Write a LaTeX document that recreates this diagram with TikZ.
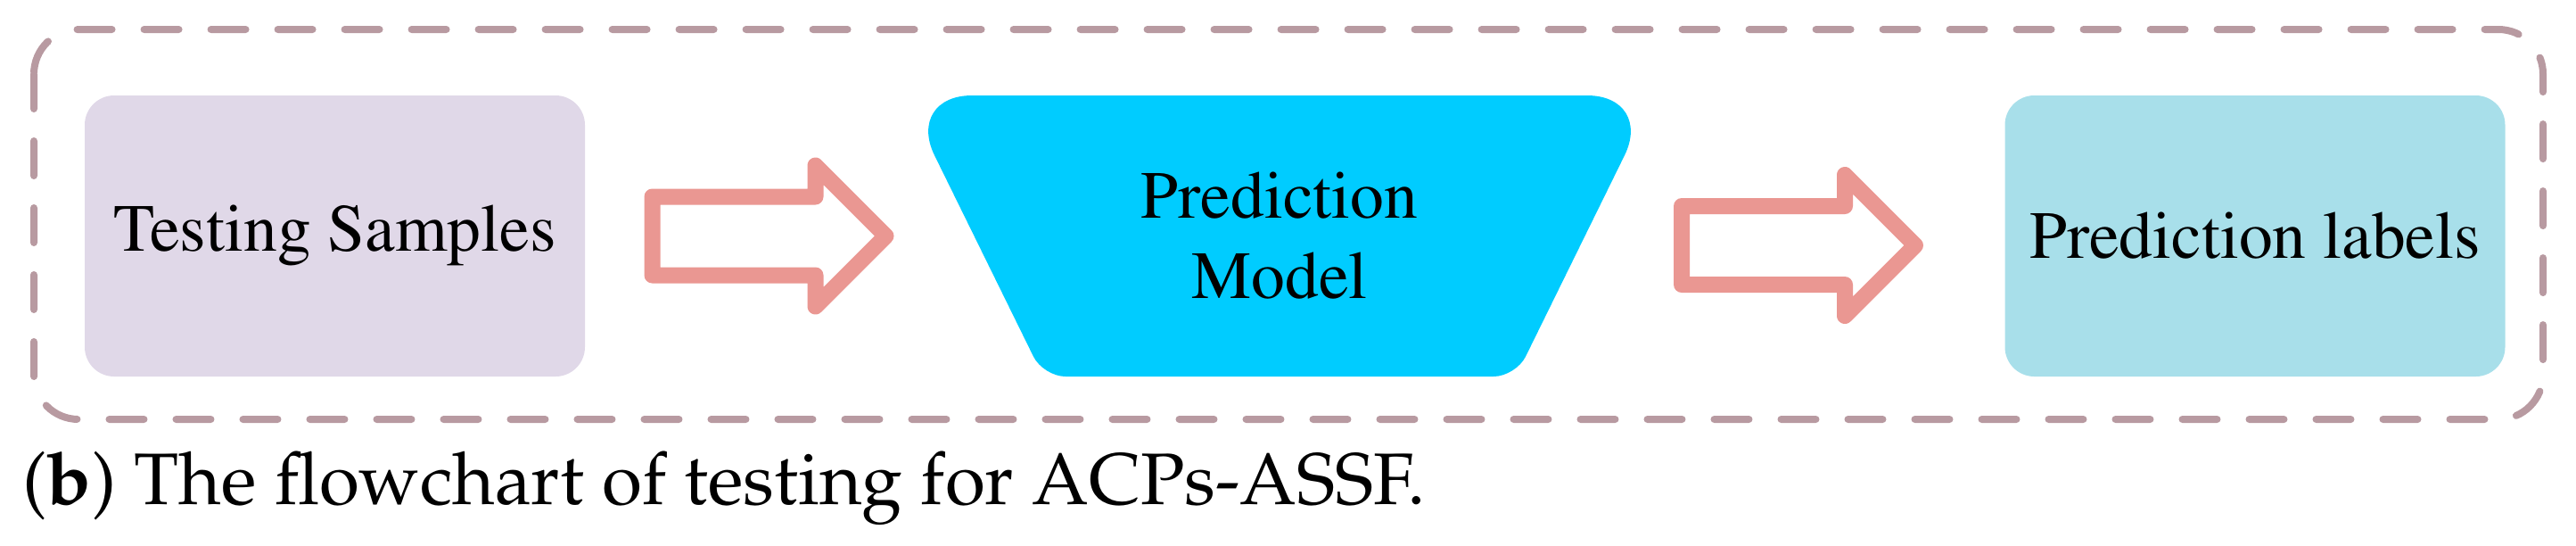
\documentclass[tikz,border=0pt]{standalone}
\usepackage[T1]{fontenc}
\usepackage{tikz}
\usetikzlibrary{shapes.arrows,calc,backgrounds}

\definecolor{samplebg}{RGB}{224,216,232}
\definecolor{modelbg}{RGB}{0,204,255}
\definecolor{labelbg}{RGB}{168,223,234}
\definecolor{arrowpink}{RGB}{234,151,146}
\definecolor{framegray}{RGB}{184,154,161}

\begin{document}
\begin{tikzpicture}[auto, node distance=10cm,
	box node/.style={rectangle,rounded corners=0.33cm,minimum width=5.61cm,minimum height=3.15cm,inner sep=0pt,font=\fontfamily{ptm}\fontsize{21.5}{25.6}\selectfont},
	model node/.style={inner sep=0pt,align=center,font=\fontfamily{ptm}\fontsize{21.5}{25.6}\selectfont},
	block arrow/.style={single arrow,draw=arrowpink,fill=white,line width=0.18cm,line join=round,minimum width=1.4cm,minimum height=2.62cm,single arrow head extend=0.35cm,inner xsep=0pt,inner ysep=0.35cm}]
	
	\useasboundingbox (0,0) rectangle (28.89,-6.11);
	\draw[framegray,line width=0.08cm,dash pattern=on 0.39cm off 0.36cm,line cap=round,rounded corners=0.5cm] (0.38,-0.33) rectangle (28.52,-4.70);
	
	\node[box node,fill=samplebg] (1) at (3.755,-2.645) {Testing Samples};
	\node[model node] (2) [right of=1, node distance=10.595cm] {Prediction\\Model};
	\node[box node,fill=labelbg] (3) [right of=2, node distance=10.94cm] {Prediction labels};
	
	% trapezoid behind the model text
	\begin{scope}[on background layer]
	\fill[modelbg] ($(2)+(0,1.575)$) [rounded corners=0.75cm] -- ($(2)+(4.2,1.575)$) [rounded corners=0.25cm] -- ($(2)+(2.65,-1.575)$) -- ($(2)+(-2.65,-1.575)$) [rounded corners=0.75cm] -- ($(2)+(-4.2,1.575)$) -- cycle;
	\end{scope}
	
	\node[block arrow] (12) [right of=1, node distance=4.65cm] {};
	\node[block arrow] (23) [right of=2, node distance=5.6cm, yshift=-0.105cm] {};
	
	\node[anchor=base west,inner sep=0pt,font=\fontfamily{ppl}\fontsize{23.3}{28}\selectfont] (cap) at (0.25,-5.65) {(\textbf{b}) The flowchart of testing for ACPs-ASSF.};
\end{tikzpicture}
\end{document}
